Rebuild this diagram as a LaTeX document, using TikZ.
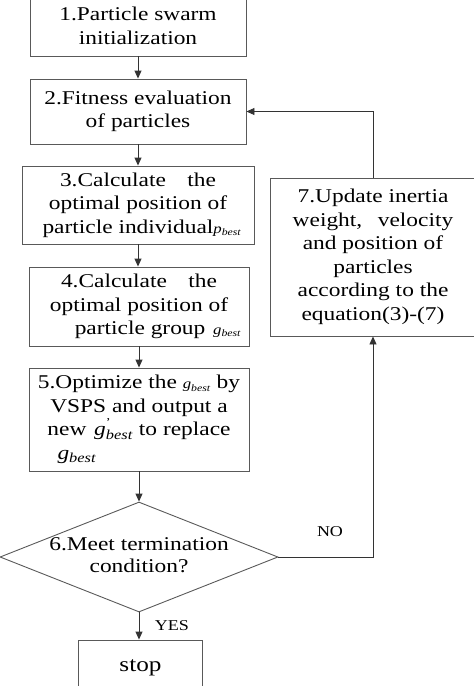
\documentclass[tikz,border=0pt]{standalone}
\usepackage{fontspec}
\setmainfont{Liberation Serif}[FakeStretch=1.2]
\usetikzlibrary{shapes.geometric,arrows.meta}
\newcommand\best[1]{\textit{#1}\textsubscript{\textit{best}}}
\newcommand\smallbest[1]{{\fontsize{14}{14}\selectfont\textit{#1}\textsubscript{\textit{best}}}}
\newcommand\bestprime{\textit{g}\makebox[0pt][l]{\raisebox{1.1ex}{\fontsize{12}{12}\selectfont '}}\textsubscript{\textit{best}}}
\begin{document}
\begin{tikzpicture}[x=1pt,y=-1pt,
  every node/.style={font=\fontsize{19.5}{23.5}\selectfont, inner sep=0pt},
  box/.style={draw=black!65, line width=0.9pt, rectangle, align=center},
  dia/.style={draw=black!65, line width=0.9pt, diamond, aspect=2.53, minimum width=278pt, minimum height=110pt},
  flow/.style={draw=black!80, line width=0.9pt, -{Triangle[length=8pt,width=7pt]}},
  lbl/.style={font=\fontsize{15}{18}\selectfont}]
\useasboundingbox (0,0) rectangle (474,686);
\clip (0,0) rectangle (474,686);
\node[box, minimum width=216pt, minimum height=60pt] (b1) at (138,26) {1.Particle swarm\\initialization};
\node[box, minimum width=216pt, minimum height=65pt] (b2) at (138,111.5) {2.Fitness evaluation\\of particles};
\node[box, minimum width=232pt, minimum height=78pt] (b3) at (138,205) {3.Calculate\hspace{0.8em} the\\optimal position of\\\hspace*{8pt}particle individual\smallbest{p}};
\node[box, minimum width=220pt, minimum height=79pt] (b4) at (139,306.5) {4.Calculate\hspace{0.8em} the\\optimal position of\\\hspace*{38pt}particle group\hspace{0.4em}\smallbest{g}};
\node[box, minimum width=220pt, minimum height=103pt] (b5) at (139,419.5) {5.Optimize the \smallbest{g} by\\VSPS and output a\\new\hspace{0.4em}\bestprime{} to replace\\\best{g}\hspace*{124pt}};
\node[dia] (d6) at (139,557) {};
\node (t6) at (139,557) {\begin{tabular}{@{}c@{}}6.Meet termination\\[-2pt]condition?\end{tabular}};
\node[box, minimum width=124pt, minimum height=56pt, font=\fontsize{21}{24}\selectfont] (stop) at (140.5,668) {stop};
\node[box, minimum width=206pt, minimum height=158pt] (b7) at (373,257) {7.Update inertia\\weight,\hspace{0.5em} velocity\\and position of\\particles\\according to the\\equation(3)-(7)};
\node[lbl] (no) at (330,532) {NO};
\node[lbl] (yes) at (172,626) {YES};
\draw[flow] (b1.south) -- (b1.south |- b2.north);
\draw[flow] (b2.south) -- (b2.south |- b3.north);
\draw[flow] (b3.south) -- (b3.south |- b4.north);
\draw[flow] (b4.south) -- (b4.south |- b5.north);
\draw[flow] (b5.south) -- (d6.north);
\draw[flow] (d6.south) -- (d6.south |- stop.north);
\draw[flow] (d6.east) -| (b7.south);
\draw[flow] (b7.north) |- (b2.east);
\end{tikzpicture}
\end{document}
